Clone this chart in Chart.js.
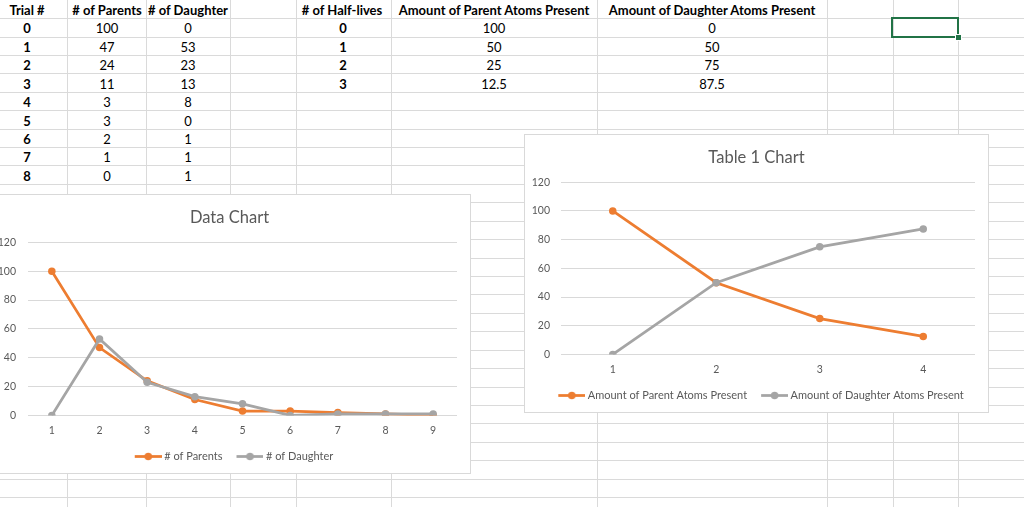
<!DOCTYPE html>
<html>
<head>
<meta charset="utf-8">
<script src="https://cdn.jsdelivr.net/npm/chart.js@4.4.0/dist/chart.umd.min.js"></script>
<style>
  html, body { margin: 0; padding: 0; width: 1024px; height: 507px; overflow: hidden; background: #fff; font-family: Lato, "Noto Sans", sans-serif; }
  .hl { position: absolute; left: 0; width: 1024px; height: 1px; background: #dadada; }
  .vl { position: absolute; top: 0; width: 1px; height: 507px; background: #dadada; }
  .cell { position: absolute; height: 18px; line-height: 18px; font-size: 13px; color: #000; white-space: nowrap; transform: translateX(-50%); }
  .bold { font-weight: bold; }
  .box { position: absolute; background: #fff; border: 1px solid #d9d9d9; }
  .box canvas { position: absolute; left: 0; top: 0; }
  #sel { position: absolute; left: 891px; top: 17px; width: 64px; height: 17px; border: 2px solid #217346; }
  #handle { position: absolute; left: 955px; top: 34px; width: 5px; height: 5px; background: #217346; border: 1px solid #fff; }
</style>
</head>
<body>
<div id="sheet"></div>
<div id="sel"></div>
<div id="handle"></div>
<div class="box" style="left:-12px; top:194px; width:481px; height:278px;">
  <canvas id="data-chart" width="481" height="278"></canvas>
</div>
<div class="box" style="left:524px; top:134px; width:463px; height:277px;">
  <canvas id="table-chart" width="463" height="277"></canvas>
</div>
<script>
// spreadsheet values
const trialNums = [0, 1, 2, 3, 4, 5, 6, 7, 8];
const parents = [100, 47, 24, 11, 3, 3, 2, 1, 0];
const daughters = [0, 53, 23, 13, 8, 0, 1, 1, 1];
const halfLives = [0, 1, 2, 3];
const parentAtoms = [100, 50, 25, 12.5];
const daughterAtoms = [0, 50, 75, 87.5];

// chart categories (Excel default 1..n)
const dataLabels = ['1', '2', '3', '4', '5', '6', '7', '8', '9'];
const tableLabels = ['1', '2', '3', '4'];
const yMin = 0, yMax = 120, yStep = 20;

const ORANGE = '#ED7D31';
const GRAY = '#A5A5A5';

// grid of the sheet
const sheet = document.getElementById('sheet');
const colLines = [67, 146, 230, 296, 391, 597, 827, 893, 958];
for (let k = 1; k <= 27; k++) {
  const d = document.createElement('div');
  d.className = 'hl';
  d.style.top = Math.round(18.42 * k - 0.3) + 'px';
  sheet.appendChild(d);
}
colLines.forEach(function (x) {
  const d = document.createElement('div');
  d.className = 'vl';
  d.style.left = x + 'px';
  sheet.appendChild(d);
});

function cell(text, cx, row, bold) {
  const d = document.createElement('div');
  d.className = 'cell' + (bold ? ' bold' : '');
  d.textContent = text;
  d.style.left = cx + 'px';
  d.style.top = (Math.round(18.42 * row) + 1) + 'px';
  sheet.appendChild(d);
}

cell('Trial #', 27, 0, true);
cell('# of Parents', 107, 0, true);
cell('# of Daughter', 188, 0, true);
cell('# of Half-lives', 342, 0, true);
cell('Amount of Parent Atoms Present', 494, 0, true);
cell('Amount of Daughter Atoms Present', 712, 0, true);
trialNums.forEach(function (t, i) {
  cell(String(t), 27, i + 1, true);
  cell(String(parents[i]), 107, i + 1, false);
  cell(String(daughters[i]), 188, i + 1, false);
});
halfLives.forEach(function (h, i) {
  cell(String(h), 343, i + 1, true);
  cell(String(parentAtoms[i]), 494, i + 1, false);
  cell(String(daughterAtoms[i]), 712, i + 1, false);
});

// legend marker: line with a dot, transparent room on the left as item gap
function legendMark(color) {
  const c = document.createElement('canvas');
  c.width = 39; c.height = 9;
  const g = c.getContext('2d');
  g.strokeStyle = color; g.lineWidth = 2.75;
  g.beginPath(); g.moveTo(12, 4.5); g.lineTo(39, 4.5); g.stroke();
  g.fillStyle = color;
  g.beginPath(); g.arc(25.5, 4.5, 3.75, 0, Math.PI * 2); g.fill();
  return c;
}

function series(label, values, color, order) {
  return {
    label: label, data: values, order: order,
    borderColor: color, backgroundColor: color,
    borderWidth: 2.75, tension: 0,
    pointRadius: 3.75, pointBorderWidth: 0, pointBackgroundColor: color
  };
}

// keep y tick labels from being clipped at the layout padding
const unclipY = {
  id: 'unclipY',
  afterLayout: function (chart) { chart.scales.y.left = 0; }
};

const tickFont = { family: 'Lato', size: 10.5 };
const legendFont = { family: 'Lato', size: 11 };

function makeChart(id, title, labels, datasets, yWidth, yPad) {
  return new Chart(document.getElementById(id), {
    type: 'line',
    data: { labels: labels, datasets: datasets },
    plugins: [unclipY],
    options: {
      responsive: false,
      animation: false,
      layout: { padding: { left: 13, right: 13, top: 0, bottom: 1 } },
      plugins: {
        tooltip: { enabled: false },
        title: {
          display: true, text: title, color: '#595959',
          font: { family: 'Lato', size: 16.5, weight: 'normal' },
          padding: { top: 12.5, bottom: 15 }
        },
        legend: {
          position: 'bottom',
          labels: {
            usePointStyle: true, pointStyleWidth: 33, padding: 5,
            color: '#595959', font: legendFont,
            generateLabels: function (chart) {
              return chart.data.datasets.map(function (ds, i) {
                return {
                  text: ds.label, datasetIndex: i, hidden: false,
                  fillStyle: ds.borderColor, strokeStyle: ds.borderColor,
                  lineWidth: 0, fontColor: '#595959',
                  pointStyle: legendMark(ds.borderColor)
                };
              });
            }
          }
        }
      },
      scales: {
        x: {
          offset: true,
          grid: { display: false, drawTicks: false },
          border: { display: false },
          ticks: { color: '#595959', font: tickFont, padding: 9 }
        },
        y: {
          min: yMin, max: yMax,
          ticks: { stepSize: yStep, color: '#595959', font: tickFont, padding: yPad },
          grid: { color: '#d9d9d9', drawTicks: false },
          border: { display: false },
          afterFit: function (s) { s.width = yWidth; }
        }
      }
    }
  });
}

makeChart('data-chart', 'Data Chart', dataLabels, [
  series('# of Parents', parents, ORANGE, 1),
  series('# of Daughter', daughters, GRAY, 0)
], 26, 12);

makeChart('table-chart', 'Table 1 Chart', tableLabels, [
  series('Amount of Parent Atoms Present', parentAtoms, ORANGE, 1),
  series('Amount of Daughter Atoms Present', daughterAtoms, GRAY, 0)
], 23, 11);
</script>
</body>
</html>
